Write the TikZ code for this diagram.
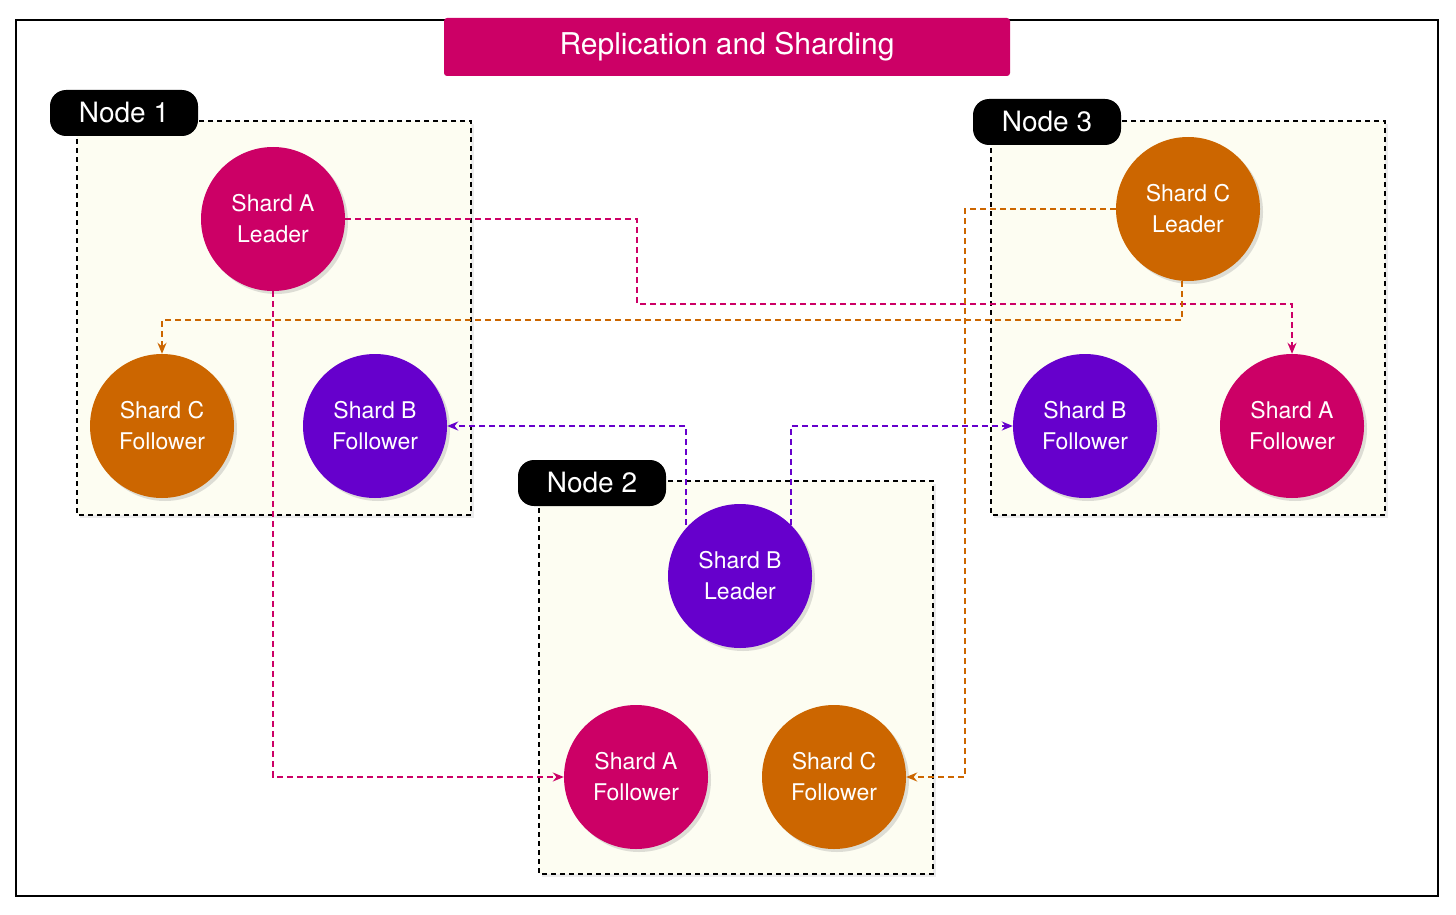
\documentclass[tikz,border=0pt]{standalone}
\usepackage{fontspec}
\setmainfont{TeX Gyre Heros}
\usetikzlibrary{shadows,arrows.meta}
\definecolor{cA}{HTML}{CC0066}
\definecolor{cB}{HTML}{6600CC}
\definecolor{cC}{HTML}{CC6600}
\definecolor{bx}{HTML}{FDFDF2}
\begin{document}
\begin{tikzpicture}[x=1pt,y=-1pt,
 sh/.style={circle,minimum size=144pt,inner sep=0pt,text=white,align=center,font=\fontsize{23}{31}\selectfont,drop shadow={opacity=0.25,shadow xshift=3pt,shadow yshift=-3pt}},
 grp/.style={draw=black,dashed,line width=1.6pt,fill=bx,dash pattern=on 5pt off 4pt,drop shadow={opacity=0.15,shadow xshift=3pt,shadow yshift=-3pt}},
 pill/.style={fill=black,text=white,rounded corners=16pt,minimum width=148pt,minimum height=46pt,font=\fontsize{28}{30}\selectfont},
 con/.style={dashed,line width=1.6pt,dash pattern=on 6pt off 4pt,-{Stealth[length=11pt,width=9pt]}}]
\useasboundingbox (0,0) rectangle (1456,915);
\draw[line width=2pt] (16,20) rectangle (1438,896);
\node[fill=cA,text=white,rounded corners=3pt,minimum width=566pt,minimum height=58pt,font=\fontsize{30}{32}\selectfont] (title) at (727,47) {Replication and Sharding};
\draw[grp] (77,121) rectangle (471,515);
\draw[grp] (991,121) rectangle (1385,515);
\draw[grp] (539,481) rectangle (933,874);
\node[pill] (n1) at (124,113) {Node 1};
\node[pill] (n3) at (1047,122) {Node 3};
\node[pill] (n2) at (592,483) {Node 2};
\node[sh,fill=cA] (al) at (273,219) {Shard A\\Leader};
\node[sh,fill=cC] (cf1) at (162,426) {Shard C\\Follower};
\node[sh,fill=cB] (bf1) at (375,426) {Shard B\\Follower};
\node[sh,fill=cC] (cl) at (1188,209) {Shard C\\Leader};
\node[sh,fill=cB] (bf3) at (1085,426) {Shard B\\Follower};
\node[sh,fill=cA] (af3) at (1292,426) {Shard A\\Follower};
\node[sh,fill=cB] (bl) at (740,576) {Shard B\\Leader};
\node[sh,fill=cA] (af2) at (636,777) {Shard A\\Follower};
\node[sh,fill=cC] (cf2) at (834,777) {Shard C\\Follower};
\draw[con,cA] (al.east) -- (637,219) -- (637,304) -- (1292,304) -- (af3.north);
\draw[con,cA] (al.south) -- (273,777) -- (af2.west);
\draw[con,cC] (cl.south -| 1182,0) ++(0,0) (1182,281) -- (1182,320) -- (162,320) -- (cf1.north);
\draw[con,cC] (cl.west) -- (965,209) -- (965,777) -- (cf2.east);
\draw[con,cB] (686,525) -- (686,426) -- (bf1.east);
\draw[con,cB] (791,525) -- (791,426) -- (bf3.west);
\end{tikzpicture}
\end{document}
